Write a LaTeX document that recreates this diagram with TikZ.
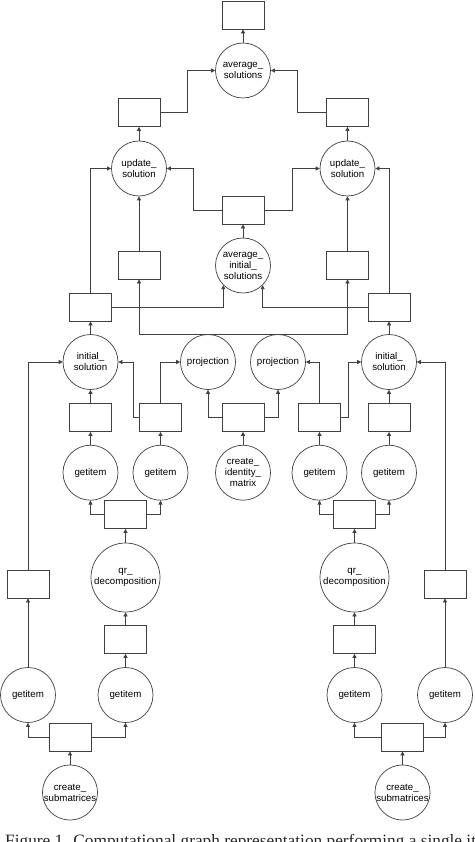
\documentclass[tikz,border=0pt]{standalone}
\usepackage{fontspec}
\setmainfont{Liberation Serif}
\newfontfamily\opfont{Liberation Sans}
\usetikzlibrary{positioning,arrows.meta}

\begin{document}
\begin{tikzpicture}[x=1pt, y=-1pt, >={Triangle[length=4pt,width=4pt]},
  op/.style={circle, draw=black!75, line width=0.7pt, minimum size=55pt,
    inner sep=0pt, align=center, font=\opfont\fontsize{9.7}{11}\selectfont},
  big op/.style={op, minimum size=69pt},
  tensor/.style={rectangle, draw=black!75, line width=0.7pt,
    minimum width=42pt, minimum height=28pt, inner sep=0pt},
  link/.style={->, draw=black!75, line width=0.7pt}]

\useasboundingbox (0,0) rectangle (474,842);

% top: averaging of the two solutions
\node [tensor] (result) at (243,15) {};
\node [op] (avg-sol) at (243,70.5) {average\_\\solutions};
\foreach \x [count=\i] in {139,347.5}
  \node [tensor] (upd-out-\i) at (\x,112.5) {};
\foreach \x [count=\i] in {139,347.5}
  \node [op] (update-\i) at (\x,168.5) {update\_\\solution};
\node [tensor] (avg-out) at (243,210) {};
\node [op] (avg-init) at (243,265.5) {average\_\\initial\_\\solutions};
\foreach \x [count=\i] in {139,347.5}
  \node [tensor] (proj-out-\i) at (\x,265) {};
\foreach \x [count=\i] in {90.5,389}
  \node [tensor] (init-out-\i) at (\x,307) {};

% middle row
\node [op] (initial-1) at (90.5,362) {initial\_\\solution};
\node [op] (proj-1) at (208,362) {projection};
\node [op] (proj-2) at (278,362) {projection};
\node [op] (initial-2) at (389,362) {initial\_\\solution};

\foreach \x [count=\i] in {90.5,160.5,243,319.5,389}
  \node [tensor] (item-\i) at (\x,417.5) {};
\foreach \x [count=\i] in {90.5,160.5,319.5,389}
  \node [op] (getitem-\i) at (\x,472.7) {getitem};
\node [op] (identity) at (243,472.7) {create\_\\identity\_\\matrix};

% qr branches
\foreach \x [count=\i] in {125.5,354.5}
  \node [tensor] (qr-out-\i) at (\x,514.5) {};
\foreach \x [count=\i] in {125.5,354.5}
  \node [big op] (qr-\i) at (\x,577.5) {qr\_\\decomposition};
\foreach \x [count=\i] in {28,445}
  \node [tensor] (side-\i) at (\x,584) {};
\foreach \x [count=\i] in {125.5,354.5}
  \node [tensor] (qr-in-\i) at (\x,639.5) {};

% bottom: submatrices
\foreach \x [count=\i from 5] in {28,125.5,354.5,445}
  \node [op] (getitem-\i) at (\x,695) {getitem};
\foreach \x [count=\i] in {70,402.5}
  \node [tensor] (sub-out-\i) at (\x,737) {};
\foreach \x [count=\i] in {70,402.5}
  \node [op] (sub-\i) at (\x,792.5) {create\_\\submatrices};

\node [anchor=base west, inner sep=0pt, text=black!85,
  font=\fontsize{17.3}{19}\selectfont] (caption) at (5,846.5)
  {Figure 1. Computational graph representation performing a single iteration};

% connectors
\draw [link] (avg-sol) -- (result);
\draw [link] (upd-out-1.east) -- ++(27,0) |- (avg-sol.west);
\draw [link] (upd-out-2.west) -- ++(-29,0) |- (avg-sol.east);

\foreach \i in {1,2}
  \draw [link] (update-\i) -- (upd-out-\i);
\draw [link] (avg-out.west) -- ++(-28,0) |- (update-1.east);
\draw [link] (avg-out.east) -- ++(28,0) |- (update-2.west);
\draw [link] (init-out-1.north) |- (update-1.west);
\draw [link] (init-out-2.north) |- (update-2.east);
\foreach \i in {1,2}
  \draw [link] (proj-out-\i) -- (update-\i);

\draw [link] (avg-init) -- (avg-out);
\draw [link] (init-out-1.east) -| (avg-init.south west);
\draw [link] (init-out-2.west) -| (avg-init.south east);

\draw [link] (proj-1.north) -| (proj-out-1.south);
\draw [link] (proj-2.north) -| (proj-out-2.south);
\draw [draw=black!75, line width=0.7pt] (proj-1.north) -- (proj-2.north);

\foreach \i in {1,2}
  \draw [link] (initial-\i) -- (init-out-\i);
\draw [link] (item-1) -- (initial-1);
\draw [link] (item-5) -- (initial-2);
\draw [link] (item-2.north) |- (proj-1.west);
\draw [link] (item-2.west) -- ++(-6,0) |- (initial-1.east);
\draw [link] (item-3.west) -| (proj-1.south);
\draw [link] (item-3.east) -| (proj-2.south);
\draw [link] (item-4.north) |- (proj-2.east);
\draw [link] (item-4.east) -- ++(7,0) |- (initial-2.west);

\foreach \i/\j in {1/1,2/2,3/4,4/5}
  \draw [link] (getitem-\i) -- (item-\j);
\draw [link] (identity) -- (item-3);

\draw [link] (qr-out-1.west) -| (getitem-1.south);
\draw [link] (qr-out-1.east) -| (getitem-2.south);
\draw [link] (qr-out-2.west) -| (getitem-3.south);
\draw [link] (qr-out-2.east) -| (getitem-4.south);
\foreach \i in {1,2}
  \draw [link] (qr-\i) -- (qr-out-\i);
\draw [link] (side-1.north) |- (initial-1.west);
\draw [link] (side-2.north) |- (initial-2.east);
\foreach \i in {1,2}
  \draw [link] (qr-in-\i) -- (qr-\i);

\draw [link] (getitem-5) -- (side-1);
\draw [link] (getitem-6) -- (qr-in-1);
\draw [link] (getitem-7) -- (qr-in-2);
\draw [link] (getitem-8) -- (side-2);
\draw [link] (sub-out-1.west) -| (getitem-5.south);
\draw [link] (sub-out-1.east) -| (getitem-6.south);
\draw [link] (sub-out-2.west) -| (getitem-7.south);
\draw [link] (sub-out-2.east) -| (getitem-8.south);
\foreach \i in {1,2}
  \draw [link] (sub-\i) -- (sub-out-\i);
\end{tikzpicture}
\end{document}
